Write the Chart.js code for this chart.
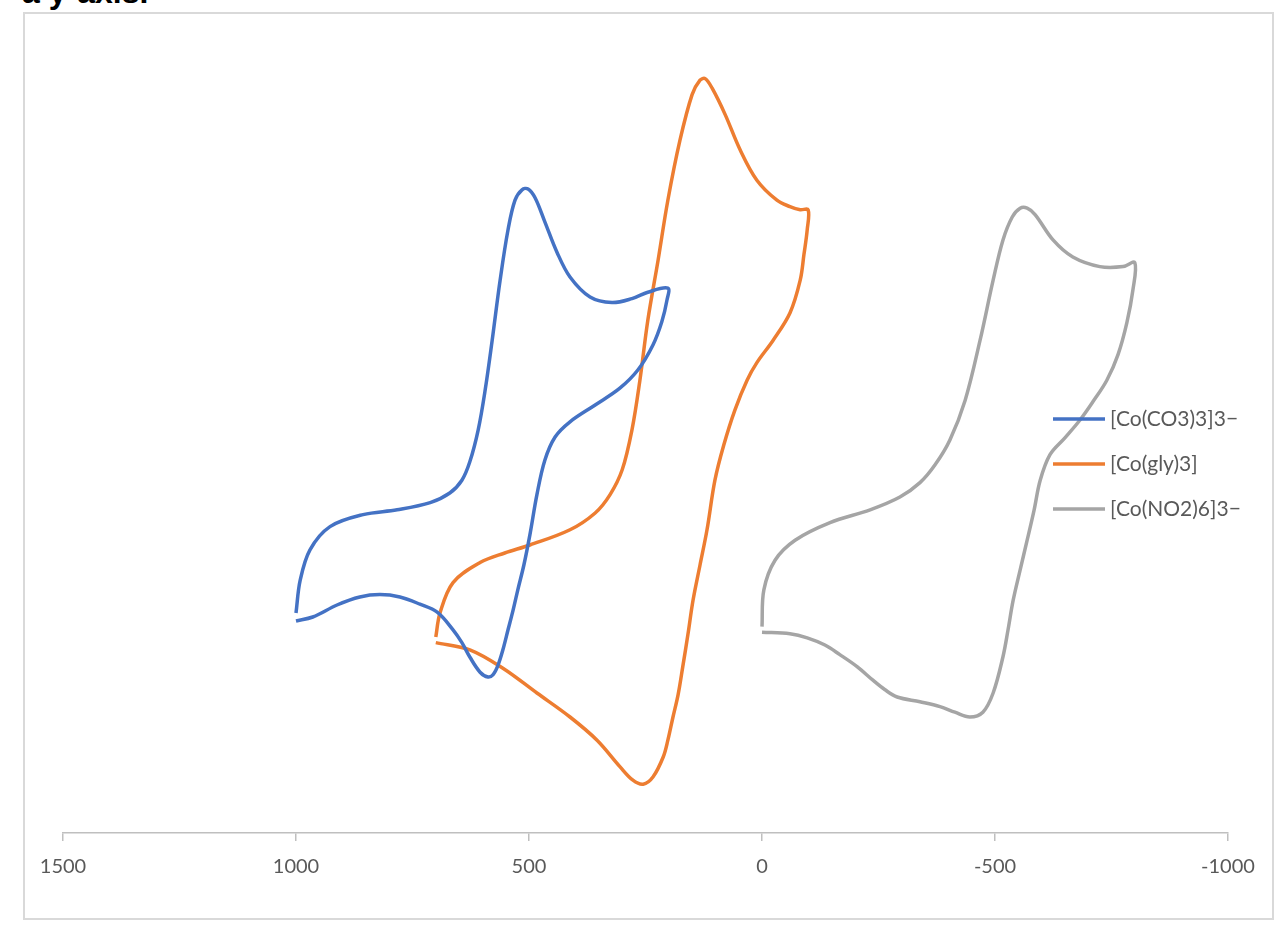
<!DOCTYPE html>
<html>
<head>
<meta charset="utf-8">
<script src="https://cdn.jsdelivr.net/npm/chart.js@4.4.1/dist/chart.umd.min.js"></script>
<style>
    body { margin: 0; background: #fff; overflow: hidden; }
    #wrap { position: relative; width: 1278px; height: 942px; }
    #frame { position: absolute; left: 23px; top: 12px; width: 1247px; height: 904px; border: 2px solid #d9d9d9; }
    #title { position: absolute; left: 22px; top: -24px; font: bold 32px "Liberation Sans", Arial, sans-serif; line-height: 32px; color: #000; white-space: nowrap; }
    canvas { position: absolute; left: 0; top: 0; }
</style>
</head>
<body>
<div id="wrap">
    <div id="title">a y-axis.</div>
    <div id="frame"></div>
    <canvas id="cv" width="1278" height="942"></canvas>
</div>
<script>
// potential (mV) and current (arbitrary units, y axis hidden in the original)
const seriesNames = ['[Co(CO3)3]3\u2212', '[Co(gly)3]', '[Co(NO2)6]3\u2212'];
const seriesColors = ['#4472C4', '#ED7D31', '#A5A5A5'];
const xTicks = [1500, 1000, 500, 0, -500, -1000];

const co3X = [1000, 991, 970, 927, 856, 783, 712, 670, 644, 627, 609, 594, 579, 562, 545, 530, 515, 502, 487, 466, 440, 412, 369, 322, 279, 245, 202,
    204, 215, 234, 266, 305, 358, 412, 444, 466, 483, 498, 511, 524, 534, 545, 556, 567, 577, 588, 605, 627, 644, 663, 697, 734, 777, 820, 863, 912, 964, 1000];
const co3Y = [27.5, 31.6, 35.4, 38.3, 39.8, 40.4, 41.3, 42.5, 44.1, 46.4, 50.4, 55.4, 61.6, 69.1, 75.4, 79.1, 80.4, 80.5, 79.4, 76.4, 72.6, 69.5, 67, 66.3, 66.8, 67.6, 68.1,
    66.6, 63.9, 61, 57.9, 55.6, 53.5, 51.4, 49.5, 46.6, 42.3, 37.3, 33.5, 30.4, 27.9, 25.4, 22.9, 20.9, 19.8, 19.5, 20.1, 22, 23.8, 25.4, 27.6, 28.6, 29.5, 29.8, 29.5, 28.5, 27, 26.5];

const glyX = [700, 691, 663, 605, 552, 498, 412, 358, 326, 300, 279, 262, 245, 223, 202, 176, 150, 133, 122, 107, 79, 47, 11, -32, -60, -82, -99,
    -97, -90, -82, -60, -24, 11, 32, 58, 82, 101, 118, 133, 148, 159, 170, 180, 191, 202, 212, 234, 255, 277, 305, 354, 412, 483, 556, 627, 700];
const glyY = [24.5, 27.5, 31.3, 33.8, 35, 36, 37.9, 40, 42.3, 45.4, 50.4, 56.6, 64.1, 71.6, 79.1, 86.6, 92.3, 94.1, 94.3, 93.1, 89.8, 85.4, 81.6, 79.1, 78.3, 77.9, 77.9,
    75.4, 72.3, 69.1, 65, 61.6, 58.8, 56.6, 52.9, 48.5, 44.1, 37.9, 33.5, 29.1, 24.8, 20.8, 17.3, 14.5, 11.6, 9.5, 7, 6.1, 6.6, 8.3, 11.6, 14.5, 17.5, 20.6, 22.9, 23.8];

const no2X = [0, -4, -28, -71, -146, -232, -296, -339, -371, -403, -436, -468, -496, -517, -537, -554, -569, -586, -625, -667, -725, -775, -800,
    -796, -783, -764, -740, -710, -682, -650, -618, -597, -584, -569, -554, -539, -528, -517, -496, -474, -446, -414, -382, -339, -290, -264, -238, -204, -167, -135, -97, -60, 0];
const no2Y = [25.8, 30.4, 34.1, 36.6, 38.8, 40.4, 42, 43.8, 46, 49.1, 54.1, 61.6, 69.1, 74.1, 77, 78.1, 78.1, 77.3, 74.1, 72, 70.8, 70.8, 71.3,
    67.9, 63.8, 59.8, 56.6, 53.9, 51.6, 49.4, 47.3, 44.1, 40.4, 36.6, 32.9, 29.1, 25.4, 22, 17.5, 15.1, 14.5, 15.1, 15.8, 16.4, 17, 17.9, 19.1, 20.8, 22.3, 23.5, 24.4, 24.9, 25.1];

function toPoints(xs, ys) {
    return xs.map((x, i) => ({ x: x, y: ys[i] }));
}

const allX = [co3X, glyX, no2X];
const allY = [co3Y, glyY, no2Y];

const legendPlugin = {
    id: 'sideLegend',
    afterDraw(chart) {
        const ctx = chart.ctx;
        ctx.save();
        chart.data.datasets.forEach((ds, i) => {
            const y = 419 + i * 45;
            ctx.strokeStyle = ds.borderColor;
            ctx.lineWidth = 3.5;
            ctx.beginPath();
            ctx.moveTo(1053, y);
            ctx.lineTo(1105, y);
            ctx.stroke();
            ctx.fillStyle = '#595959';
            ctx.font = '21px Lato';
            ctx.textBaseline = 'middle';
            ctx.fillText(ds.label, 1110, y);
        });
        ctx.restore();
    }
};

new Chart(document.getElementById('cv'), {
    type: 'scatter',
    data: {
        datasets: seriesNames.map((name, i) => ({
            label: name,
            data: toPoints(allX[i], allY[i]),
            showLine: true,
            borderColor: seriesColors[i],
            backgroundColor: seriesColors[i],
            borderWidth: 3.5,
            pointRadius: 0,
            tension: 0.35,
        })),
    },
    options: {
        responsive: false,
        animation: false,
        layout: { padding: { left: 63, right: 50, top: 33, bottom: 0 } },
        plugins: { legend: { display: false }, tooltip: { enabled: false } },
        scales: {
            x: {
                type: 'linear',
                reverse: true,
                min: -1000,
                max: 1500,
                afterBuildTicks: (scale) => { scale.ticks = xTicks.map(v => ({ value: v })); },
                afterFit: (scale) => { scale.height = 109; },
                grid: { drawOnChartArea: false, drawTicks: true, tickLength: 8, color: '#bfbfbf', lineWidth: 1.5 },
                border: { color: '#bfbfbf', width: 1.5 },
                ticks: {
                    color: '#595959',
                    font: { family: 'Lato', size: 20 },
                    padding: 14,
                    maxRotation: 0,
                    callback: (v) => String(v),
                },
            },
            y: {
                display: false,
                min: 0,
                max: 100,
            },
        },
    },
    plugins: [legendPlugin],
});
</script>
</body>
</html>
